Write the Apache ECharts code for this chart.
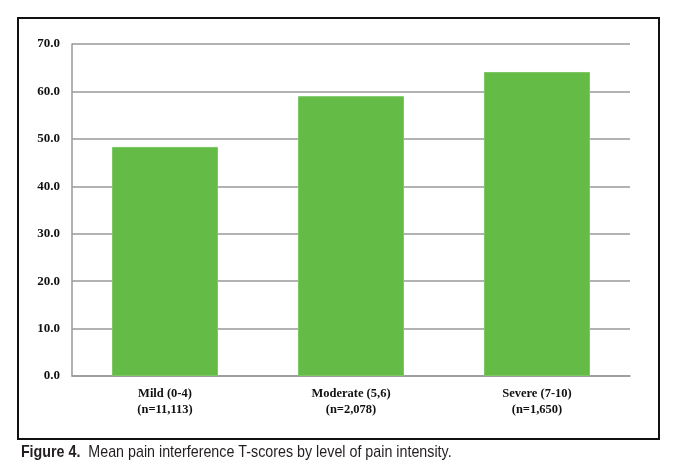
<!DOCTYPE html>
<html><head><meta charset="utf-8">
<script src="https://cdn.jsdelivr.net/npm/echarts@6/dist/echarts.min.js"></script>
<style>html,body{margin:0;padding:0;background:#fff}#c{width:681px;height:476px}</style>
</head><body><div id="c"></div>
<script>
const categories = ['Mild (0-4)\n(n=11,113)', 'Moderate (5,6)\n(n=2,078)', 'Severe (7-10)\n(n=1,650)'];
const meanTScores = [48.3, 59.0, 64.1];
const yTicks = [0, 10, 20, 30, 40, 50, 60, 70];
const caption = 'Mean pain interference T-scores by level of pain intensity.';
const figLabel = 'Figure 4.';

const chart = echarts.init(document.getElementById('c'), null, {renderer: 'canvas'});
chart.setOption({
  animation: false,
  backgroundColor: '#fff',
  grid: {left: 72, right: 51, top: 44, bottom: 100, containLabel: false},
  xAxis: {
    type: 'category', data: categories,
    axisLine: {show: true, lineStyle: {color: '#999', width: 1.5}},
    axisTick: {show: false},
    axisLabel: {color: '#111', fontFamily: 'Liberation Serif', fontSize: 12.5, fontWeight: 'bold', lineHeight: 16, margin: 10}
  },
  yAxis: {
    type: 'value', min: yTicks[0], max: yTicks[yTicks.length - 1], interval: 10,
    axisLine: {show: true, lineStyle: {color: '#999', width: 1.5}},
    axisTick: {show: false},
    splitLine: {lineStyle: {color: '#999', width: 1.5}},
    axisLabel: {color: '#111', fontFamily: 'Liberation Serif', fontSize: 13, fontWeight: 'bold', margin: 12,
      formatter: v => v.toFixed(1)}
  },
  series: [{
    type: 'bar', data: meanTScores, barWidth: '57%',
    itemStyle: {color: '#64BB46', borderColor: '#7CC766', borderWidth: 1}
  }],
  graphic: [
    {type: 'rect', shape: {x: 18, y: 18, width: 641, height: 421}, style: {fill: 'none', stroke: '#111', lineWidth: 2}, z: 10},
    {type: 'text', x: 18, y: 452, scaleX: 0.84, originX: 18, originY: 452,
      style: {text: '{b|' + figLabel + '}  ' + caption, fill: '#231f20', font: '17px "Liberation Sans"', verticalAlign: 'middle',
        rich: {b: {fontWeight: 'bold', fontSize: 17, fontFamily: 'Liberation Sans', fill: '#231f20'}}}}
  ]
});
</script></body></html>
